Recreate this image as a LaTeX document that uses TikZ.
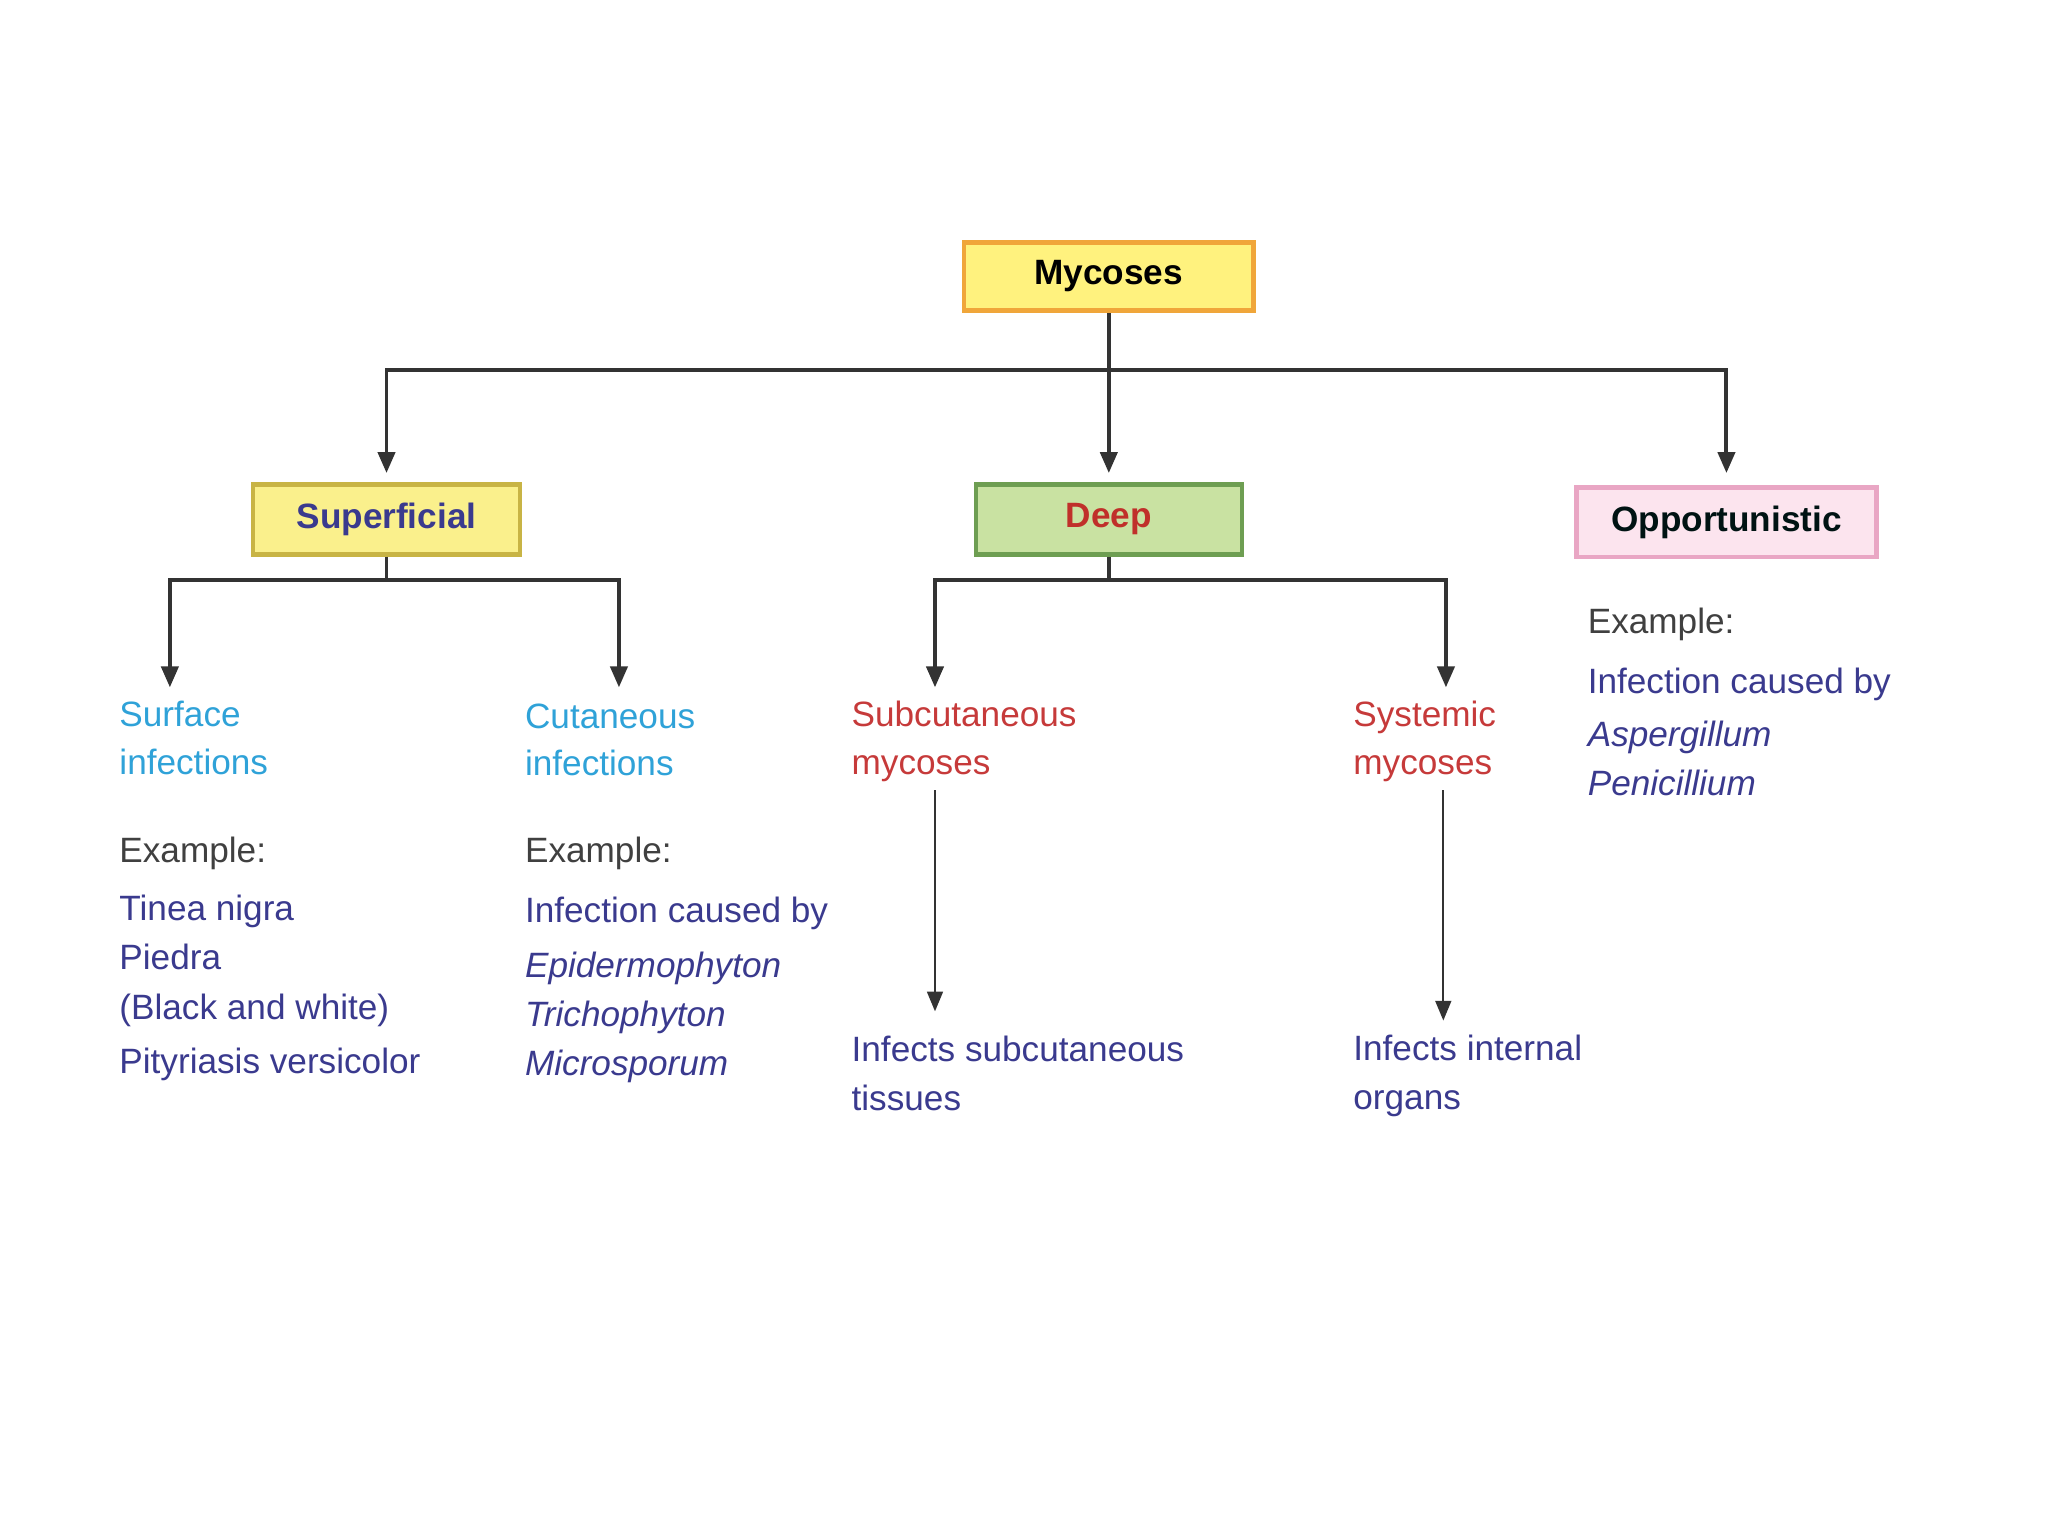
\documentclass[tikz,border=0pt]{standalone}
\usepackage{fontspec}
\setmainfont{Liberation Sans}
\usetikzlibrary{arrows.meta,calc}

\definecolor{mycfill}{HTML}{FFF27E}
\definecolor{mycline}{HTML}{F0A63A}
\definecolor{supfill}{HTML}{FAF08C}
\definecolor{supline}{HTML}{C8B445}
\definecolor{deepfill}{HTML}{C9E2A2}
\definecolor{deepline}{HTML}{6E9E52}
\definecolor{oppfill}{HTML}{FCE4EE}
\definecolor{oppline}{HTML}{E9A6C4}
\definecolor{navytext}{HTML}{3A3A8E}
\definecolor{skytext}{HTML}{2FA2D8}
\definecolor{redtext}{HTML}{C63A3A}
\definecolor{redhead}{HTML}{C0302A}
\definecolor{greytext}{HTML}{404040}
\definecolor{linegrey}{HTML}{333333}

\tikzset{
  box/.style={draw, line width=1pt, minimum width=2.03cm, minimum height=0.53cm,
    inner sep=0pt, font=\fontsize{7.6}{9}\selectfont\bfseries},
  head/.style={anchor=north west, inner sep=0pt, align=left,
    font=\fontsize{7.6}{10.2}\selectfont},
  list/.style={anchor=north west, inner sep=0pt, align=left, text=navytext,
    font=\fontsize{7.6}{10.6}\selectfont},
  bus/.style={draw=linegrey, line width=0.85pt},
  arr/.style={bus, -{Triangle[width=0.13cm,length=0.16cm]}},
  thinarr/.style={draw=linegrey, line width=0.5pt, -{Triangle[width=0.12cm,length=0.15cm]}}
}

\begin{document}
\begin{tikzpicture}
        \useasboundingbox (0,0) rectangle (15.552,-11.664);

        % boxes
        \node[box, fill=mycfill, draw=mycline, minimum width=2.2cm, minimum height=0.52cm] (myc) at (8.42,-2.10) {Mycoses};
        \node[box, fill=supfill, draw=supline, text=navytext] (sup) at (2.935,-3.945) {Superficial};
        \node[box, fill=deepfill, draw=deepline, text=redhead, minimum width=2.02cm] (deep) at (8.42,-3.945) {Deep};
        \node[box, fill=oppfill, draw=oppline, text=black!85!teal, minimum width=2.28cm] (opp) at (13.11,-3.965) {Opportunistic};

        % headings
        \node[head, text=skytext] (surf) at (0.90,-5.32) {Surface\\infections};
        \node[head, text=skytext] (cut) at (3.98,-5.34) {Cutaneous\\infections};
        \node[head, text=redtext] (subc) at (6.46,-5.32) {Subcutaneous\\mycoses};
        \node[head, text=redtext] (sys) at (10.27,-5.32) {Systemic\\mycoses};

        % examples
        \node[list] (surfex) at (0.90,-6.35) {\textcolor{greytext}{Example:}\\[0.07cm]
            Tinea nigra\\Piedra\\(Black and white)\\[0.04cm]Pityriasis versicolor};
        \node[list] (cutex) at (3.98,-6.35) {\textcolor{greytext}{Example:}\\[0.08cm]
            Infection caused by\\[0.05cm]\textit{Epidermophyton}\\\textit{Trichophyton}\\\textit{Microsporum}};
        \node[list] (oppex) at (12.05,-4.61) {\textcolor{greytext}{Example:}\\[0.08cm]
            Infection caused by\\[0.03cm]\textit{Aspergillum}\\\textit{Penicillium}};
        \node[list] (subinf) at (6.46,-7.86) {Infects subcutaneous\\tissues};
        \node[list] (sysinf) at (10.27,-7.85) {Infects internal\\organs};

        % arrow tips
        \coordinate (surftip) at ($(surf.north west)+(0.39,0.10)$);
        \coordinate (cuttip) at ($(cut.north west)+(0.72,0.12)$);
        \coordinate (subtip) at ($(subc.north west)+(0.64,0.10)$);
        \coordinate (systip) at ($(sys.north west)+(0.71,0.10)$);

        % top level
        \draw[bus] (myc.south) -- ++(0,-0.43) coordinate (topbus);
        \draw[arr, shorten >=0.07cm] (topbus) -| (sup.north);
        \draw[arr, shorten >=0.07cm] (topbus) -- (deep.north);
        \draw[arr, shorten >=0.09cm] (topbus) -| (opp.north);

        % second level
        \draw[bus] (sup.south) -- ++(0,-0.18) coordinate (supbus);
        \draw[arr] (supbus) -| (surftip);
        \draw[arr] (supbus) -| (cuttip);
        \draw[bus] (deep.south) -- ++(0,-0.18) coordinate (deepbus);
        \draw[arr] (deepbus) -| (subtip);
        \draw[arr] (deepbus) -| (systip);

        % deep outcomes
        \draw[thinarr] ($(subc.south west)+(0.64,-0.06)$) -- ($(subinf.north west)+(0.64,0.18)$);
        \draw[thinarr] ($(sys.south west)+(0.69,-0.06)$) -- ($(sysinf.north west)+(0.69,0.10)$);

    \end{tikzpicture}
\end{document}
